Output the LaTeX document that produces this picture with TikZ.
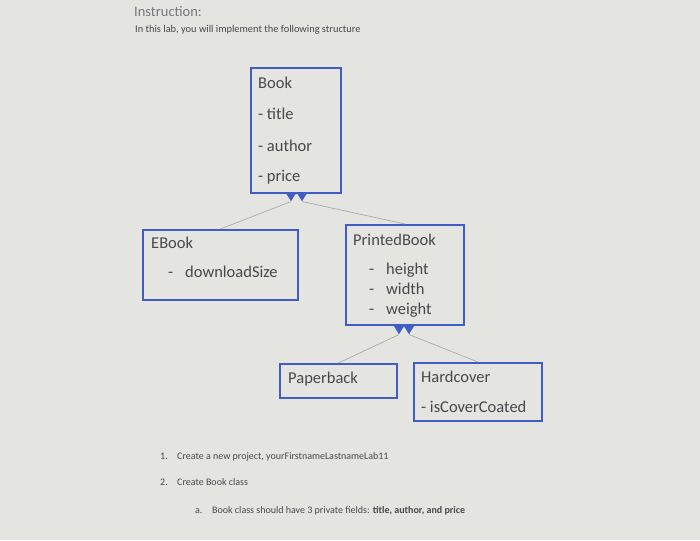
\documentclass[tikz,border=0pt]{standalone}
\usepackage{fontspec}
\setmainfont{Carlito}
\usetikzlibrary{shapes.geometric}
\definecolor{umlblue}{RGB}{66,92,198}
\definecolor{txtgray}{RGB}{72,72,76}
\definecolor{headgray}{RGB}{118,120,126}
\definecolor{linkgray}{RGB}{170,170,172}
\definecolor{paper}{RGB}{228,228,225}
\tikzset{
  box/.style= {draw=umlblue, line width=1.8pt, anchor=north west, inner sep=0},
  lbl/.style= {anchor=base west, inner sep=0, text=txtgray, font=\fontsize{16.5}{20}\selectfont},
  note/.style= {anchor=base west, inner sep=0, text=txtgray, font=\fontsize{10}{12}\selectfont},
  genhead/.style= {isosceles triangle, isosceles triangle apex angle=80, isosceles triangle stretches,
    shape border rotate=-90, fill=umlblue, inner sep=0, minimum height=8pt, minimum width=10pt},
  link/.style= {draw=linkgray, line width=0.7pt},
}

\begin{document}
\begin{tikzpicture}[x=1pt, y=-1pt]
  \fill [paper] (0,0) rectangle (700,540) ;
  \useasboundingbox (0,0) rectangle (700,540) ;

  \node [anchor=base west, inner sep=0, text=headgray, font=\fontsize{14.5}{17}\selectfont] (instr) at (134,17) {Instruction:} ;
  \node [note, font=\fontsize{10.4}{12}\selectfont] (intro) at (135,33) {In this lab, you will implement the following structure} ;

  % class boxes
  \node [box, minimum width=90, minimum height=125] (book) at (250,67) {} ;
  \node [box, minimum width=155, minimum height=70] (ebook) at (142,229) {} ;
  \node [box, minimum width=118, minimum height=100] (printed) at (345,224) {} ;
  \node [box, minimum width=117, minimum height=34] (paperback) at (279,363) {} ;
  \node [box, minimum width=128, minimum height=58] (hardcover) at (413,362) {} ;

  \node [lbl] (bookname) at (258,89) {Book} ;
  \node [lbl] (booktitle) at (258,120) {- title} ;
  \node [lbl] (bookauthor) at (258,151) {- author} ;
  \node [lbl] (bookprice) at (258,181) {- price} ;

  \node [lbl] (ebookname) at (151,248) {EBook} ;
  \node [lbl] (ebooksize) at (168,277) {\makebox[17pt][l]{-}downloadSize} ;

  \node [lbl] (printedname) at (353,245) {PrintedBook} ;
  \node [lbl] (printedheight) at (369,274) {\makebox[17pt][l]{-}height} ;
  \node [lbl] (printedwidth) at (369,294) {\makebox[17pt][l]{-}width} ;
  \node [lbl] (printedweight) at (369,314) {\makebox[17pt][l]{-}weight} ;

  \node [lbl] (paperbackname) at (288,383) {Paperback} ;
  \node [lbl] (hardcovername) at (421,382) {Hardcover} ;
  \node [lbl] (hardcovercoat) at (421,412) {- isCoverCoated} ;

  % inheritance heads
  \node [genhead] (genbookl) at (291,196) {} ;
  \node [genhead] (genbookr) at (302,196) {} ;
  \node [genhead] (genprintl) at (399,329) {} ;
  \node [genhead] (genprintr) at (409,329) {} ;

  \draw [link] (ebook.north) -- (genbookl.apex) ;
  \draw [link] (printed.north) -- (genbookr.apex) ;
  \draw [link] (paperback.north) -- (genprintl.apex) ;
  \draw [link] (hardcover.north) -- (genprintr.apex) ;

  \node [note] (stepone) at (160,459) {\makebox[17pt][l]{1.}Create a new project, yourFirstnameLastnameLab11} ;
  \node [note] (steptwo) at (160,485) {\makebox[17pt][l]{2.}Create Book class} ;
  \node [note] (stepa) at (195,513) {\makebox[17pt][l]{a.}Book class should have 3 private fields: \textbf{title, author, and price}} ;
\end{tikzpicture}
\end{document}
